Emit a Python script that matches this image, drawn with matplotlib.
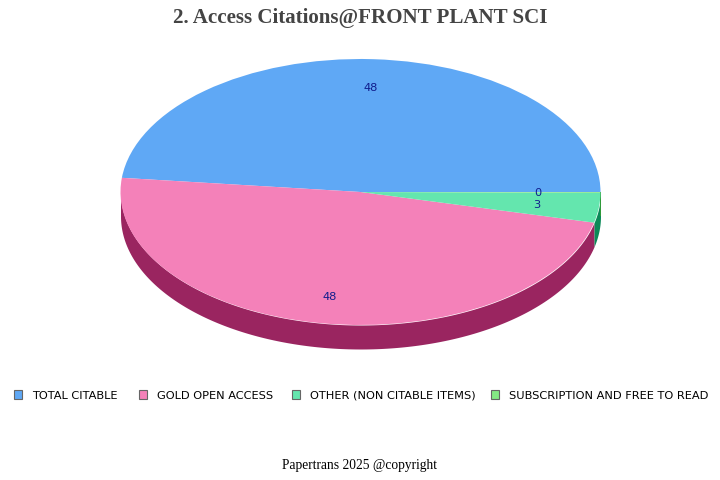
import numpy as np
import matplotlib
matplotlib.use('Agg')
import matplotlib.pyplot as plt
from matplotlib.patches import Patch

# Values
categories = ['TOTAL CITABLE', 'GOLD OPEN ACCESS', 'OTHER (NON CITABLE ITEMS)', 'SUBSCRIPTION AND FREE TO READ']
values = [48.3, 48.0, 3.6, 0.1]
labels = ['48', '48', '3', '0']
colors = ['#5fa8f5', '#f481b9', '#64e6ae', '#84e884']
dark_colors = ['#2a6fb8', '#9a2560', '#0b8a58', '#2f9a3a']

W, H = 720, 480
cx, cy, rx, ry = 360.5, 192, 240, 133
depth = 24 / ry

fig = plt.figure(figsize=(7.2, 4.8), dpi=100)
ax = fig.add_axes([0, 0, 1, 1])

# Pie top, stretched into an ellipse by the axes limits
wedges, _ = ax.pie(values, colors=colors, startangle=0, counterclock=True,
                   wedgeprops={'linewidth': 0, 'zorder': 3})

ax.set_aspect('auto')
ax.set_xlim(-cx / rx, (W - cx) / rx)
ax.set_ylim(-(H - cy) / ry, cy / ry)
ax.axis('off')

# Side wall under the front half of the pie
edges = np.cumsum([0] + values) / sum(values) * 360
for i in range(len(values)):
    a1 = max(edges[i], 180)
    a2 = edges[i + 1]
    if a2 <= a1:
        continue
    t = np.radians(np.linspace(a1, a2, 200))
    ax.fill_between(np.cos(t), np.sin(t), np.sin(t) - depth,
                    color=dark_colors[i], linewidth=0, zorder=2)

# Value labels, about 0.8 of the radius out
mids = np.radians((edges[:-1] + edges[1:]) / 2)
radii = [0.79, 0.795, 0.74, 0.74]
dx = [0, 1.5, 0, 0]
for i in range(len(values)):
    ax.text(radii[i] * np.cos(mids[i]) + dx[i] / rx, radii[i] * np.sin(mids[i]) - 1 / ry, labels[i],
            ha='center', va='center', fontsize=8.2, color='#101c8c', zorder=5)

# Legend along the bottom, one entry at a time so each can sit where it should
legend_x = [14, 139, 292, 491]
for c, name, x in zip(colors, categories, legend_x):
    handle = Patch(facecolor=c, edgecolor='#666666', linewidth=0.8)
    fig.legend([handle], [name], loc='center left', bbox_to_anchor=(x / W, 1 - 395.5 / H),
               frameon=False, fontsize=8.2, handlelength=0.72, handleheight=0.72,
               handletextpad=0.9, borderpad=0, borderaxespad=0)

fig.text(360 / W, 1 - 18 / H, '2. Access Citations@FRONT PLANT SCI', ha='center', va='center',
         fontsize=15.1, fontweight='bold', family='Liberation Serif', color='#444444')
fig.text(359.5 / W, 1 - 466 / H, 'Papertrans 2025 @copyright', ha='center', va='center',
         fontsize=9.75, family='Liberation Serif', color='black')

fig.savefig('out.png', dpi=100)
